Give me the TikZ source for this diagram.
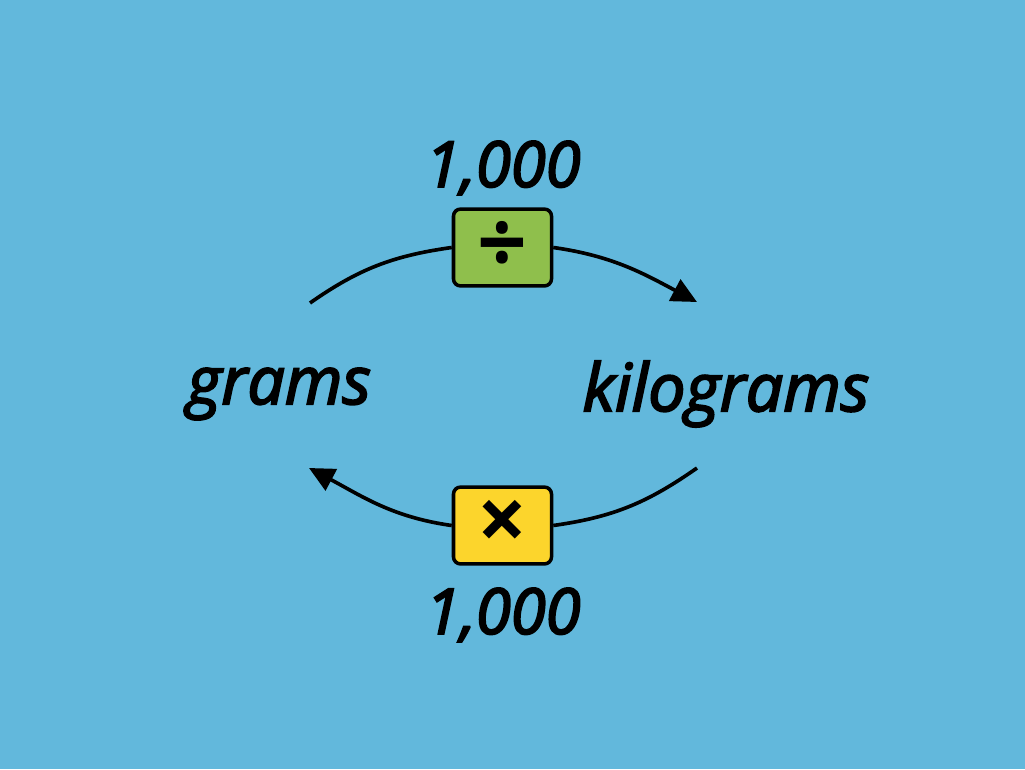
\documentclass[tikz,border=0pt]{standalone}
\usepackage{fontspec}
\setmainfont{Open Sans}[ItalicFeatures={FakeBold=3}]
\usepackage{tikz}
\usepackage{xcolor}
\usetikzlibrary{positioning,arrows.meta,calc}

\definecolor{bgblue}{HTML}{62B8DC}
\definecolor{opgreen}{HTML}{8FBF4C}
\definecolor{opyellow}{HTML}{FCD52C}

\tikzset{
  unitlab/.style={font=\fontsize{47}{50}\selectfont\itshape},
  numlab/.style={font=\fontsize{45}{50}\selectfont\itshape},
  opbox/.style={draw=black,line width=2.5pt,rounded corners=5pt,
    minimum width=2.45cm,minimum height=1.92cm,inner sep=0pt,
    font=\fontsize{62}{64}\selectfont\bfseries},
  conv/.style={line width=2.6pt,black},
  convarrow/.style={conv,-{Triangle[length=18pt,width=17pt]}}
}

\begin{document}
\begin{tikzpicture}[x=0.025cm,y=-0.025cm]
  % background, pixel grid 1025 x 769 (y runs down)
  \fill[bgblue] (0,0) rectangle (1025,769);
  % units
  \node[unitlab] (grams) at (279,394) {grams};
  \node[unitlab] (kilo) at (726,394) {kilograms};
  % operator boxes
  \node[opbox,fill=opgreen] (divbox) at (502.5,247.5) {÷};
  \node[opbox,fill=opyellow] (mulbox) at (502.5,525.5) {×};
  \node[numlab] (numtop) at (503,168) {1,000};
  \node[numlab] (numbot) at (503,615) {1,000};
  % free ends of the arcs
  \coordinate (gtop) at (310,303);
  \coordinate (ktop) at (697,302);
  \coordinate (kbot) at (697,468);
  \coordinate (gbot) at (309,468);
  % grams -> kilograms
  \draw[conv] (gtop) to[out=35,in=188] (divbox.west);
  \draw[convarrow] (divbox.east) to[out=-8,in=152] (ktop);
  % kilograms -> grams
  \draw[conv] (kbot) to[out=215,in=8] (mulbox.east);
  \draw[convarrow] (mulbox.west) to[out=172,in=-28] (gbot);
\end{tikzpicture}
\end{document}
